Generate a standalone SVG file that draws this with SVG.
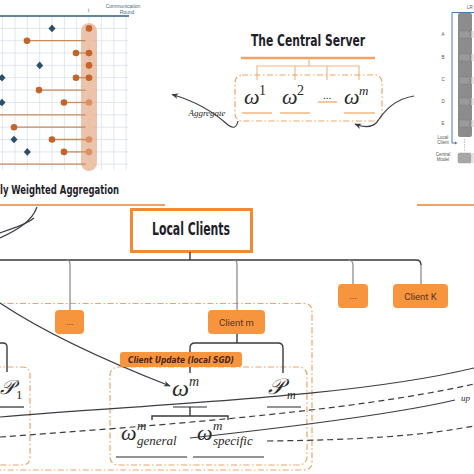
<svg xmlns="http://www.w3.org/2000/svg" width="474" height="474" viewBox="0 0 474 474">
<defs>
<style>
.grid{stroke:#d9e1ea;stroke-width:0.8;fill:none}
.cond{font-family:"Liberation Sans Narrow","DejaVu Sans Condensed","Liberation Sans",sans-serif;font-weight:bold;fill:#1e1e2a}
.math{font-family:"Liberation Serif","DejaVu Serif",serif;font-style:italic;fill:#2a2a2a}
.sup{font-family:"Liberation Serif","DejaVu Serif",serif;fill:#2a2a2a}
.obox{fill:#f7953f;stroke:none}
.olbl{font-family:"Roboto","Liberation Sans",sans-serif;font-size:9.5px;fill:#5a3320;text-anchor:middle}
.dd{fill:none;stroke:#e9a566;stroke-width:1.2;stroke-dasharray:6 2.5 1.5 2.5}
.tree{fill:none;stroke:#3a3a3a;stroke-width:1.4}
.stem{fill:none;stroke:#858585;stroke-width:1.2}
.curve{fill:none;stroke:#3c3c44;stroke-width:1.2}
.dash{fill:none;stroke:#3c3c44;stroke-width:1.2;stroke-dasharray:6 4}
.uline{stroke:#2a2a2a;stroke-width:1.2}
.ouline{stroke:#f0a35e;stroke-width:1.2}
.lead{stroke:#c98a60;stroke-width:1.3}
.dk{fill:#c2642b}
.md{fill:#dc9064}
.ft{fill:#eec2a8}
.dia{fill:#2d4e6c}
.tiny{font-family:"Liberation Sans",sans-serif;font-size:5px;fill:#4a6a88;text-anchor:middle}
.lab{font-family:"Liberation Sans",sans-serif;font-size:4.5px;fill:#555;text-anchor:middle}
</style>
<marker id="ah" viewBox="0 0 10 10" refX="9" refY="5" markerWidth="7" markerHeight="7" orient="auto" markerUnits="userSpaceOnUse">
<path d="M0,1 L10,5 L0,9 L3,5 Z" fill="#3c3c44"/>
</marker>
</defs>
<rect width="474" height="474" fill="#ffffff"/>

<!-- top-left chart -->
<g id="chart">
<path class="grid" d="M2.6,16V170M15,16V170M27.3,16V170M39.7,16V170M52,16V170M64.4,16V170M76.7,16V170M89,16V170M101.4,16V170M113.8,16V170M126.1,16V170M0,28.4H128M0,40.7H128M0,53H128M0,65.4H128M0,77.7H128M0,90.1H128M0,102.5H128M0,114.8H128M0,127.2H128M0,139.5H128M0,151.9H128M0,164.2H128"/>
<line x1="0" y1="16" x2="129" y2="16" stroke="#2a5f86" stroke-width="1.5"/>
<text class="tiny" x="88.5" y="12">t</text>
<text class="tiny" x="123" y="8">Communication</text>
<text class="tiny" x="127" y="13.5">Round</text>
<rect x="81" y="23" width="16" height="148" rx="8" fill="#e4ab88" opacity="0.7"/>
<g>
<line class="lead" x1="27" y1="40.7" x2="89" y2="40.7"/>
<line class="lead" x1="76" y1="53" x2="89" y2="53"/>
<line class="lead" x1="76" y1="77.7" x2="89" y2="77.7"/>
<line class="lead" x1="39" y1="90.1" x2="89" y2="90.1"/>
<line class="lead" x1="64" y1="102.5" x2="89" y2="102.5"/>
<line class="lead" x1="0" y1="114.8" x2="89" y2="114.8"/>
<line class="lead" x1="14" y1="127.2" x2="89" y2="127.2"/>
<line class="lead" x1="52" y1="139.5" x2="89" y2="139.5"/>
<line class="lead" x1="64" y1="151.9" x2="89" y2="151.9"/>
<line class="lead" x1="0" y1="164.2" x2="89" y2="164.2"/>
</g>
<g>
<circle class="dk" cx="89" cy="28.4" r="3.3"/>
<circle class="ft" cx="89" cy="40.7" r="3.3"/>
<circle class="dk" cx="89" cy="53" r="3.3"/>
<circle class="dk" cx="89" cy="65.4" r="3.3"/>
<circle class="dk" cx="89" cy="77.7" r="3.3"/>
<circle class="ft" cx="89" cy="90.1" r="3.3"/>
<circle class="md" cx="89" cy="102.5" r="3.3"/>
<circle class="ft" cx="89" cy="114.8" r="3.3"/>
<circle class="ft" cx="89" cy="127.2" r="3.3"/>
<circle class="md" cx="89" cy="139.5" r="3.3"/>
<circle class="md" cx="89" cy="151.9" r="3.3"/>
<circle class="ft" cx="89" cy="164.2" r="3.3"/>
<circle class="dk" cx="27" cy="40.7" r="3.3"/>
<circle class="dk" cx="76" cy="53" r="3.3"/>
<circle class="dk" cx="76" cy="77.7" r="3.3"/>
<circle class="dk" cx="39" cy="90.1" r="3.3"/>
<circle class="dk" cx="64" cy="102.5" r="3.3"/>
<circle class="dk" cx="14" cy="127.2" r="3.3"/>
<circle class="dk" cx="52" cy="139.5" r="3.3"/>
<circle class="dk" cx="64" cy="151.9" r="3.3"/>
</g>
<g>
<path class="dia" d="M52,24.6L55.5,28.4L52,32.2L48.5,28.4Z"/>
<path class="dia" d="M39.7,61.6L43.2,65.4L39.7,69.2L36.2,65.4Z"/>
<path class="dia" d="M2,73.9L5.5,77.7L2,81.5L-1.5,77.7Z"/>
<path class="dia" d="M2,98.7L5.5,102.5L2,106.3L-1.5,102.5Z"/>
<path class="dia" d="M14,135.7L17.5,139.5L14,143.3L10.5,139.5Z"/>
<path class="dia" d="M27.3,148.1L30.8,151.9L27.3,155.7L23.8,151.9Z"/>
</g>
<text class="cond" x="0" y="194" font-size="13" textLength="119" lengthAdjust="spacingAndGlyphs" fill="#2a2a3a">ly Weighted Aggregation</text>
</g>
<line x1="0" y1="205" x2="165" y2="205" stroke="#f0a060" stroke-width="2"/>
<line x1="417" y1="205" x2="474" y2="205" stroke="#f0a060" stroke-width="2"/>

<!-- right-side figure -->
<g id="side">
<path d="M474,12.5H452V143H456" fill="none" stroke="#4a78a8" stroke-width="1"/>
<path d="M455,141.5L457.5,143L455,144.5Z" fill="#4a78a8"/>
<rect x="458" y="13" width="14" height="124" rx="2" fill="#8c8c8c"/>
<g fill="#9a9a9a" stroke="#777" stroke-width="0.4">
<rect x="459" y="31" width="11" height="7"/><rect x="459" y="54" width="11" height="7"/><rect x="459" y="77" width="11" height="7"/><rect x="459" y="98" width="11" height="7"/><rect x="459" y="120" width="11" height="7"/>
</g>
<g fill="#e4e4e4"><rect x="471.5" y="31" width="3" height="7"/><rect x="471.5" y="54" width="3" height="7"/><rect x="471.5" y="77" width="3" height="7"/><rect x="471.5" y="98" width="3" height="7"/><rect x="471.5" y="120" width="3" height="7"/><rect x="471.5" y="153" width="3" height="10"/></g>
<line x1="464.5" y1="139" x2="464.5" y2="151" stroke="#999" stroke-width="0.6" stroke-dasharray="1.5 1"/>
<rect x="458" y="153" width="13" height="10" rx="1.5" fill="#a8a8a8" stroke="#888" stroke-width="0.4"/>
<text class="lab" x="443" y="36">A</text>
<text class="lab" x="443" y="59">B</text>
<text class="lab" x="443" y="81">C</text>
<text class="lab" x="443" y="103">D</text>
<text class="lab" x="443" y="125">E</text>
<text class="lab" x="443" y="139">Local</text>
<text class="lab" x="443" y="144">Client</text>
<text class="lab" x="443" y="156">Central</text>
<text class="lab" x="443" y="161">Model</text>
<text class="lab" x="470" y="9" font-size="4">LR</text>
</g>

<!-- central server -->
<g id="server">
<text class="cond" x="308" y="46" font-size="16" text-anchor="middle" textLength="114" lengthAdjust="spacingAndGlyphs">The Central Server</text>
<line x1="241" y1="58" x2="375" y2="58" stroke="#f2a263" stroke-width="2.5"/>
<path d="M309,58V66M257,80V66H359V80M295,66V80M327,66V80" fill="none" stroke="#f2b27f" stroke-width="1.1"/>
<rect class="dd" x="235" y="75" width="147" height="46" rx="7"/>
<text class="math" x="244" y="104" font-size="22">ω</text>
<text class="sup" x="259" y="95" font-size="14">1</text>
<text class="math" x="282" y="104" font-size="22">ω</text>
<text class="sup" x="297" y="95" font-size="14">2</text>
<text class="sup" x="327" y="99" font-size="11" text-anchor="middle" fill="#555">...</text>
<text class="math" x="344" y="104" font-size="22">ω</text>
<text class="math" x="359" y="95" font-size="13">m</text>
<line class="ouline" x1="242" y1="113" x2="272" y2="113"/>
<line class="ouline" x1="280" y1="113" x2="310" y2="113"/>
<line class="ouline" x1="318" y1="102" x2="337" y2="102"/>
<line class="ouline" x1="344" y1="113" x2="375" y2="113"/>
<text class="math" x="207" y="116" font-size="9" text-anchor="middle" fill="#444">Aggregate</text>
</g>

<!-- local clients -->
<g id="local-clients">
<rect x="131.5" y="209.5" width="120" height="42" fill="#ffffff" stroke="#f08a35" stroke-width="3"/>
<text class="cond" x="191" y="235" font-size="17" text-anchor="middle" textLength="78" lengthAdjust="spacingAndGlyphs">Local Clients</text>
</g>

<g id="outer-region"><path class="dd" d="M-5,303.5H304Q312,303.5 312,311.5V462Q312,470 304,470H-5"/></g>
<g id="inner-left"><path class="dd" d="M-5,367H22Q30,367 30,375V457Q30,465 22,465H-5"/></g>
<g id="inner-m"><rect class="dd" x="110" y="367" width="197" height="98" rx="8"/></g>

<g id="connectors">
<path class="tree" d="M190,252V260M0,260H416Q421,260 421,265"/>
<path class="stem" d="M421,265V285M348,260Q353,260 353,265V284M66,260Q70,260 70,264V310M233,260Q237,260 237,264V310"/>
<path class="tree" d="M237,334V343M190,373V348Q190,343 195,343H278Q283,343 283,348V373"/>
<path class="tree" d="M0,343H3Q7,343 7,347V372"/>
<path class="tree" d="M190,407V416M152,420V416H228V420"/>
<path class="curve" d="M238,121Q236,131 228,125Q205,104 172,94.5" marker-end="url(#ah)"/>
<path class="curve" d="M414,96C395,99 385,110 377,122Q370,130 355,124" marker-end="url(#ah)"/>
<path class="curve" d="M0,238C15,231 32,222 37,207"/>
<path class="curve" d="M0,233C13,228 26,225 34,218"/>
<path class="curve" d="M0,303Q60,343 170,386" marker-end="url(#ah)"/>
<path class="curve" d="M0,417C150,404 350,398 474,368"/>
<path class="dash" d="M0,437C150,426 350,412 474,384"/>
<path class="curve" d="M190,438C300,426 400,413 455,400"/>
<path class="dash" d="M267,441C360,440 420,436 474,426"/>
</g>

<g id="node-dots-left"><rect class="obox" x="55" y="310" width="29" height="24" rx="4"/><text class="olbl" x="69.5" y="325" fill="#8a6040">...</text></g>
<g id="node-client-m"><rect class="obox" x="208" y="310" width="57" height="24" rx="4"/><text class="olbl" x="236.5" y="325.5">Client m</text></g>
<g id="node-dots-right"><rect class="obox" x="338" y="284" width="30" height="24" rx="4"/><text class="olbl" x="353" y="299" fill="#8a6040">...</text></g>
<g id="node-client-k"><rect class="obox" x="393" y="284" width="55" height="24" rx="4"/><text class="olbl" x="420.5" y="299.5">Client K</text></g>

<g id="client-update">
<rect class="obox" x="120" y="352" width="122" height="15" rx="3"/>
<text x="181" y="363" font-family="'DejaVu Sans','Liberation Sans',sans-serif" font-size="8.3" font-weight="bold" font-style="italic" fill="#4a2410" text-anchor="middle" textLength="106" lengthAdjust="spacingAndGlyphs">Client Update (local SGD)</text>
</g>

<g id="omega-m">
<text class="math" x="172" y="396" font-size="24">ω</text>
<text class="math" x="189" y="386" font-size="14">m</text>
<line class="uline" x1="173" y1="407" x2="207" y2="407"/>
</g>
<g id="p-m">
<text class="math" x="268" y="394" font-size="22">𝒫</text>
<text class="math" x="287" y="399" font-size="12">m</text>
<line class="uline" x1="267" y1="407" x2="301" y2="407"/>
</g>
<g id="p-1">
<text class="math" x="0" y="394" font-size="20">𝒫</text>
<text class="sup" x="16" y="399" font-size="13">1</text>
<line class="uline" x1="0" y1="407" x2="24" y2="407"/>
</g>
<g id="omega-general">
<text class="math" x="121" y="440" font-size="22">ω</text>
<text class="math" x="137" y="430" font-size="13">m</text>
<text class="math" x="137" y="445" font-size="13">general</text>
<line class="uline" x1="116" y1="457" x2="187" y2="457"/>
</g>
<g id="omega-specific">
<text class="math" x="197" y="440" font-size="22">ω</text>
<text class="math" x="213" y="430" font-size="13">m</text>
<text class="math" x="213" y="445" font-size="13">specific</text>
<line class="uline" x1="193" y1="457" x2="264" y2="457"/>
</g>
<text class="math" x="461" y="401" font-size="9" fill="#555">up</text>
</svg>
